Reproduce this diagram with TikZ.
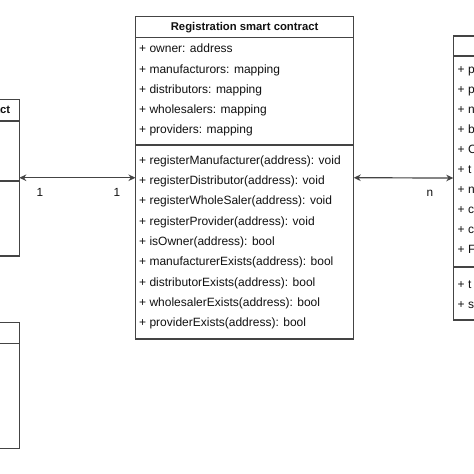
\documentclass[tikz,border=0pt]{standalone}
\usepackage{fontspec}
\setmainfont{Liberation Sans}
\usetikzlibrary{arrows.meta}
\definecolor{linec}{HTML}{444444}
\definecolor{txtc}{HTML}{111111}
\tikzset{
  umlbox/.style={draw=linec, line width=1.2pt, fill=white, inner sep=0pt, outer sep=0pt},
  row/.style={anchor=west, inner sep=0pt, text=txtc, font=\fontsize{12}{13}\selectfont, text height=8.6pt, text depth=2.5pt},
  ttl/.style={inner sep=0pt, text=txtc, font=\fontsize{11.3}{13}\bfseries\selectfont, text height=8.6pt, text depth=2.5pt},
  lbl/.style={inner sep=0pt, text=txtc, font=\fontsize{11.8}{13}\selectfont},
  divider/.style={draw=linec, line width=1.2pt},
  assoc/.style={draw=linec, line width=1.2pt, {Stealth[length=7pt,width=6.5pt,inset=2.2pt]}-{Stealth[length=7pt,width=6.5pt,inset=2.2pt]}}
}
\begin{document}
\begin{tikzpicture}[x=1pt,y=-1pt]
\useasboundingbox (0,0) rectangle (474,474);
\clip (0,0) rectangle (474,474);
\fill[white] (0,0) rectangle (474,474);

% main box
\node[umlbox, anchor=north west, minimum width=218.2pt, minimum height=322.5pt] (reg) at (135.5,16.5) {};
\draw[divider] (reg.west |- 0,37.5) -- (reg.east |- 0,37.5);
\draw[divider] (reg.west |- 0,145) -- (reg.east |- 0,145);
\node[ttl] (regt) at (244.6,27.5) {Registration smart contract};
\node[row] (a1) at (139,49.5) {+ owner: address};
\node[row] (a2) at (139,70) {+ manufacturors: mapping};
\node[row] (a3) at (139,90) {+ distributors: mapping};
\node[row] (a4) at (139,110) {+ wholesalers: mapping};
\node[row] (a5) at (139,130) {+ providers: mapping};
\node[row] (m1) at (139,161) {+ registerManufacturer(address): void};
\node[row] (m2) at (139,181.5) {+ registerDistributor(address): void};
\node[row] (m3) at (139,201.8) {+ registerWholeSaler(address): void};
\node[row] (m4) at (139,222) {+ registerProvider(address): void};
\node[row] (m5) at (139,242.2) {+ isOwner(address): bool};
\node[row] (m6) at (139,262.5) {+ manufacturerExists(address): bool};
\node[row] (m7) at (139,283) {+ distributorExists(address): bool};
\node[row] (m8) at (139,303.2) {+ wholesalerExists(address): bool};
\node[row] (m9) at (139,323.4) {+ providerExists(address): bool};

% left box (cut off)
\node[umlbox, anchor=north east, minimum width=100pt, minimum height=156.5pt] (left) at (19.3,99.5) {};
\draw[divider] (left.west |- 0,121) -- (left.east |- 0,121);
\draw[divider] (left.west |- 0,181) -- (left.east |- 0,181);
\node[ttl, anchor=east] (leftt) at (10.4,110.5) {contract};

% bottom-left box (cut off)
\node[umlbox, anchor=north east, minimum width=100pt, minimum height=125.6pt] (bleft) at (19.3,322.7) {};
\draw[divider] (bleft.west |- 0,343.3) -- (bleft.east |- 0,343.3);

% right box (cut off)
\node[umlbox, anchor=north west, minimum width=100pt, minimum height=284pt] (right) at (453.3,36) {};
\draw[divider] (right.west |- 0,56) -- (right.east |- 0,56);
\draw[divider] (right.west |- 0,267) -- (right.east |- 0,267);
\node[row] (r1) at (457.5,70) {+ p};
\node[row] (r2) at (457.5,90) {+ p};
\node[row] (r3) at (457.5,110) {+ n};
\node[row] (r4) at (457.5,130) {+ b};
\node[row] (r5) at (457.5,150) {+ C};
\node[row] (r6) at (457.5,170) {+ t};
\node[row] (r7) at (457.5,190) {+ n};
\node[row] (r8) at (457.5,210) {+ c};
\node[row] (r9) at (457.5,230) {+ c};
\node[row] (r10) at (457.5,250) {+ F};
\node[row] (r11) at (457.5,285) {+ t};
\node[row] (r12) at (457.5,305) {+ s};

% associations
\draw[assoc] (left.east) -- (reg.west);
\draw[assoc] (reg.east) -- (right.west);
\node[lbl] (l1) at (40,192) {1};
\node[lbl] (l2) at (117,192) {1};
\node[lbl] (l3) at (430,193) {n};
\end{tikzpicture}
\end{document}
